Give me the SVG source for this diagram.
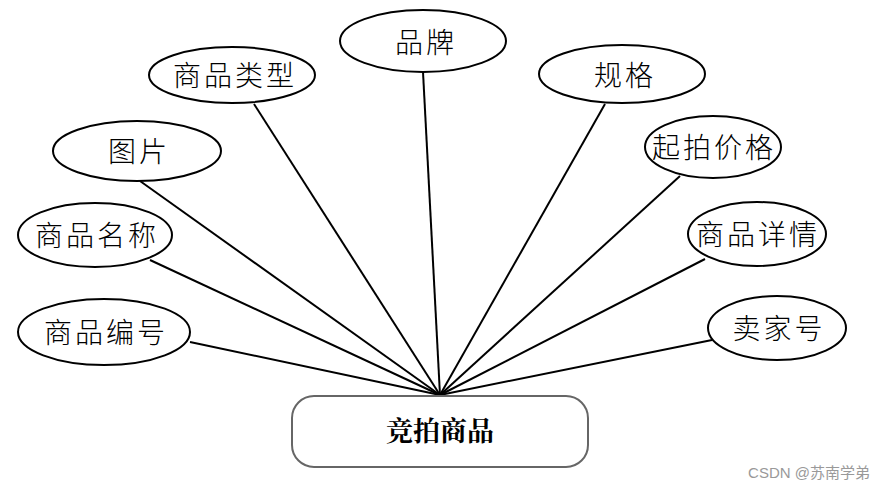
<svg xmlns="http://www.w3.org/2000/svg" width="885" height="491" viewBox="0 0 885 491">
<style>
.e{fill:#fff;stroke:#000;stroke-width:2}
.t{font-family:"Noto Sans CJK SC","Liberation Sans",sans-serif;font-size:28px;font-weight:300;letter-spacing:3px;fill:#000;text-anchor:middle;dominant-baseline:central}
.c line{stroke:#000;stroke-width:2}
</style>
<rect width="885" height="491" fill="#fff"/>
<g class="c" id="connectors">
<line x1="190" y1="342" x2="440" y2="395"/>
<line x1="150" y1="260" x2="440" y2="395"/>
<line x1="140" y1="181" x2="440" y2="395"/>
<line x1="254" y1="104" x2="440" y2="395"/>
<line x1="423" y1="72" x2="440" y2="395"/>
<line x1="605" y1="104" x2="440" y2="395"/>
<line x1="680" y1="176" x2="440" y2="395"/>
<line x1="705" y1="259" x2="440" y2="395"/>
<line x1="712" y1="340" x2="440" y2="395"/>
</g>
<g id="n-pinpai"><ellipse class="e" cx="423" cy="41" rx="83" ry="31"/><text class="t" x="426" y="41">品牌</text></g>
<g id="n-leixing"><ellipse class="e" cx="232" cy="75" rx="83" ry="28"/><text class="t" x="235" y="74">商品类型</text></g>
<g id="n-guige"><ellipse class="e" cx="622" cy="74" rx="83" ry="29"/><text class="t" x="625" y="74">规格</text></g>
<g id="n-tupian"><ellipse class="e" cx="137" cy="151" rx="84" ry="30"/><text class="t" x="139" y="150">图片</text></g>
<g id="n-qipai"><ellipse class="e" cx="713" cy="147" rx="68" ry="31"/><text class="t" x="714" y="146">起拍价格</text></g>
<g id="n-mingcheng"><ellipse class="e" cx="95" cy="235" rx="77" ry="32"/><text class="t" x="97" y="234">商品名称</text></g>
<g id="n-xiangqing"><ellipse class="e" cx="757" cy="234" rx="69" ry="32"/><text class="t" x="758" y="233">商品详情</text></g>
<g id="n-bianhao"><ellipse class="e" cx="104" cy="332" rx="86" ry="33"/><text class="t" x="106" y="331">商品编号</text></g>
<g id="n-maijia"><ellipse class="e" cx="777" cy="328" rx="69" ry="32"/><text class="t" x="779" y="327">卖家号</text></g>
<g id="n-main"><rect x="292" y="396" width="296" height="71" rx="22" fill="#fff" stroke="#666" stroke-width="2"/><text x="440" y="432" font-family="'Liberation Serif','Noto Serif CJK SC','Noto Sans CJK SC',serif" font-size="27" font-weight="bold" text-anchor="middle" dominant-baseline="central">竞拍商品</text></g>
<text x="870" y="478" font-family="'Liberation Sans','Noto Sans CJK SC',sans-serif" font-size="15" fill="#999" text-anchor="end">CSDN @苏南学弟</text>
</svg>
